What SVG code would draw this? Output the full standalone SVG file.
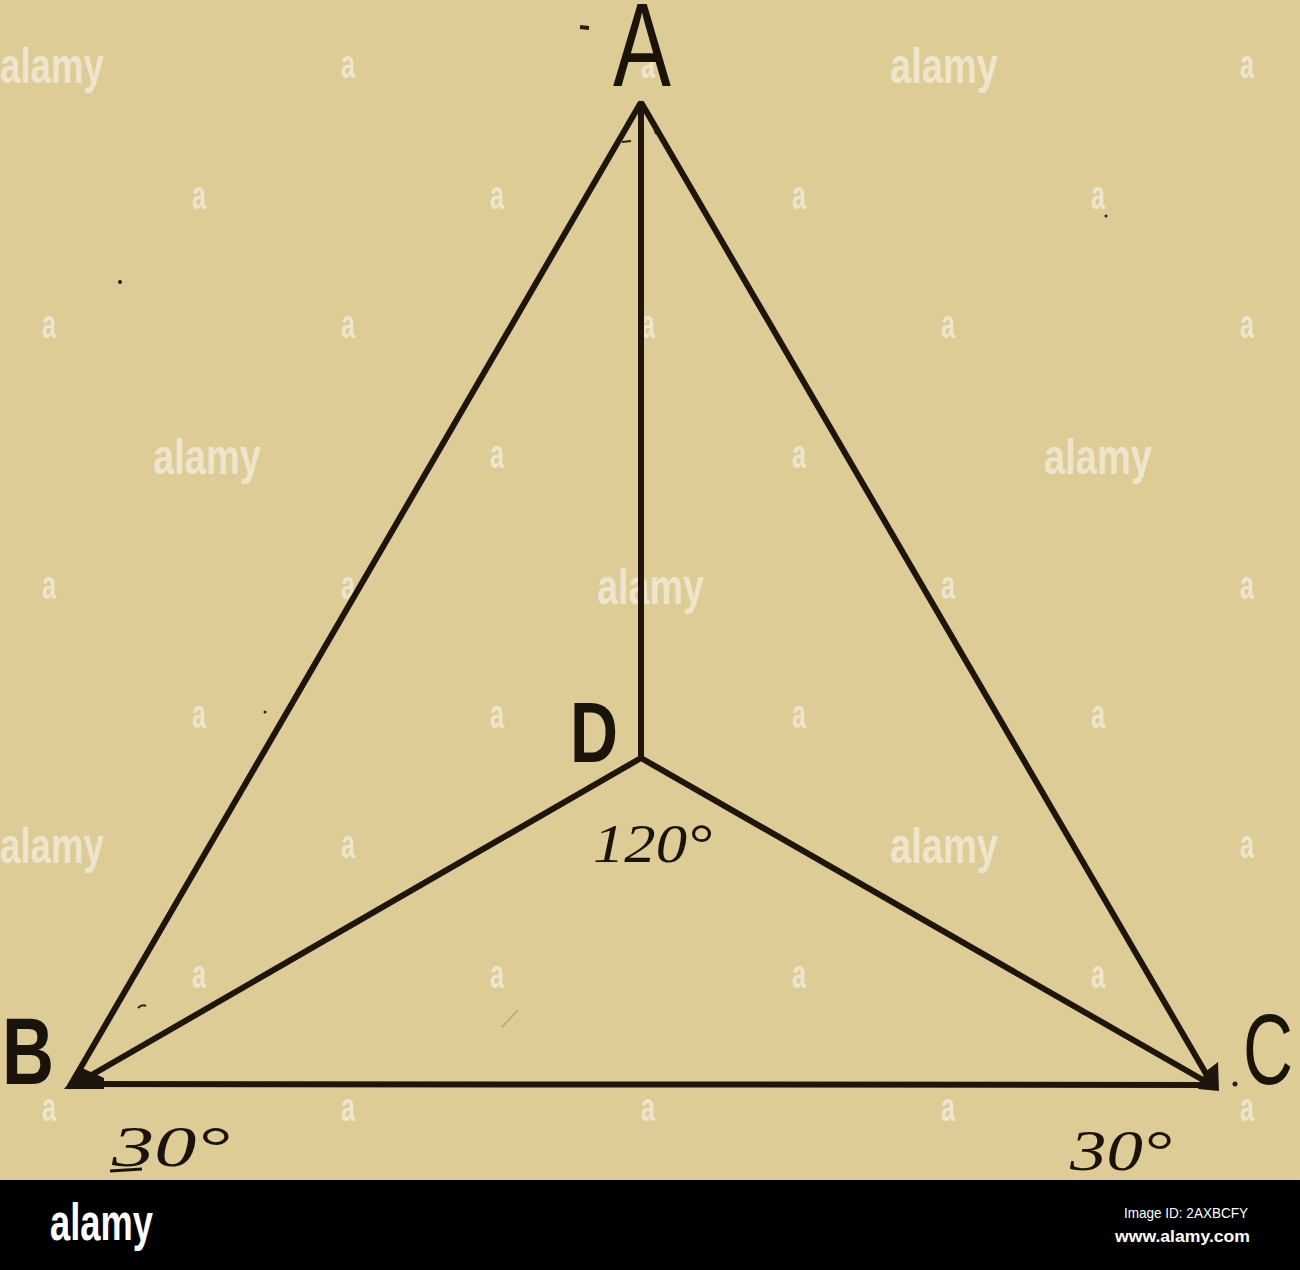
<svg xmlns="http://www.w3.org/2000/svg" width="1300" height="1270" viewBox="0 0 1300 1270">
<defs>
<style>
.wm { fill:#ede6cc; font-family:"Liberation Sans",Arial,sans-serif; font-weight:bold; }
.wa { font-size:40px; text-anchor:middle; }
.wl { font-size:50px; }
.edge { stroke:#1e160c; stroke-width:6; stroke-linecap:round; fill:none; }
.lbl { fill:#1a130a; font-family:"Liberation Sans",Arial,sans-serif; }
.ang { fill:#1a130a; font-family:"Liberation Serif","Times New Roman",serif; font-style:italic; }
.foot { fill:#ffffff; font-family:"Liberation Sans",Arial,sans-serif; }
</style>
</defs>
<rect x="0" y="0" width="1300" height="1180" fill="#ddcc96"/>

<g id="watermarks">
  <text class="wm wl" x="0" y="83" textLength="104" lengthAdjust="spacingAndGlyphs">alamy</text>
  <text class="wm wa" x="348" y="78" textLength="14" lengthAdjust="spacingAndGlyphs">a</text>
  <text class="wm wa" x="648" y="78" textLength="14" lengthAdjust="spacingAndGlyphs">a</text>
  <text class="wm wl" x="890" y="83" textLength="108" lengthAdjust="spacingAndGlyphs">alamy</text>
  <text class="wm wa" x="1247" y="78" textLength="14" lengthAdjust="spacingAndGlyphs">a</text>

  <text class="wm wa" x="199" y="209" textLength="14" lengthAdjust="spacingAndGlyphs">a</text>
  <text class="wm wa" x="497" y="209" textLength="14" lengthAdjust="spacingAndGlyphs">a</text>
  <text class="wm wa" x="799" y="209" textLength="14" lengthAdjust="spacingAndGlyphs">a</text>
  <text class="wm wa" x="1098" y="209" textLength="14" lengthAdjust="spacingAndGlyphs">a</text>

  <text class="wm wa" x="49" y="338" textLength="14" lengthAdjust="spacingAndGlyphs">a</text>
  <text class="wm wa" x="348" y="338" textLength="14" lengthAdjust="spacingAndGlyphs">a</text>
  <text class="wm wa" x="648" y="338" textLength="14" lengthAdjust="spacingAndGlyphs">a</text>
  <text class="wm wa" x="948" y="338" textLength="14" lengthAdjust="spacingAndGlyphs">a</text>
  <text class="wm wa" x="1247" y="338" textLength="14" lengthAdjust="spacingAndGlyphs">a</text>

  <text class="wm wl" x="153" y="474" textLength="108" lengthAdjust="spacingAndGlyphs">alamy</text>
  <text class="wm wa" x="497" y="468" textLength="14" lengthAdjust="spacingAndGlyphs">a</text>
  <text class="wm wa" x="799" y="468" textLength="14" lengthAdjust="spacingAndGlyphs">a</text>
  <text class="wm wl" x="1044" y="474" textLength="108" lengthAdjust="spacingAndGlyphs">alamy</text>

  <text class="wm wa" x="49" y="599" textLength="14" lengthAdjust="spacingAndGlyphs">a</text>
  <text class="wm wa" x="348" y="599" textLength="14" lengthAdjust="spacingAndGlyphs">a</text>
  <text class="wm wl" x="597" y="604" textLength="107" lengthAdjust="spacingAndGlyphs">alamy</text>
  <text class="wm wa" x="948" y="599" textLength="14" lengthAdjust="spacingAndGlyphs">a</text>
  <text class="wm wa" x="1247" y="599" textLength="14" lengthAdjust="spacingAndGlyphs">a</text>

  <text class="wm wa" x="199" y="728" textLength="14" lengthAdjust="spacingAndGlyphs">a</text>
  <text class="wm wa" x="497" y="728" textLength="14" lengthAdjust="spacingAndGlyphs">a</text>
  <text class="wm wa" x="799" y="728" textLength="14" lengthAdjust="spacingAndGlyphs">a</text>
  <text class="wm wa" x="1098" y="728" textLength="14" lengthAdjust="spacingAndGlyphs">a</text>

  <text class="wm wl" x="0" y="863" textLength="104" lengthAdjust="spacingAndGlyphs">alamy</text>
  <text class="wm wa" x="348" y="858" textLength="14" lengthAdjust="spacingAndGlyphs">a</text>
  <text class="wm wl" x="890" y="863" textLength="108" lengthAdjust="spacingAndGlyphs">alamy</text>
  <text class="wm wa" x="1247" y="858" textLength="14" lengthAdjust="spacingAndGlyphs">a</text>

  <text class="wm wa" x="199" y="988" textLength="14" lengthAdjust="spacingAndGlyphs">a</text>
  <text class="wm wa" x="497" y="988" textLength="14" lengthAdjust="spacingAndGlyphs">a</text>
  <text class="wm wa" x="799" y="988" textLength="14" lengthAdjust="spacingAndGlyphs">a</text>
  <text class="wm wa" x="1098" y="988" textLength="14" lengthAdjust="spacingAndGlyphs">a</text>

  <text class="wm wa" x="49" y="1121" textLength="14" lengthAdjust="spacingAndGlyphs">a</text>
  <text class="wm wa" x="348" y="1121" textLength="14" lengthAdjust="spacingAndGlyphs">a</text>
  <text class="wm wa" x="648" y="1121" textLength="14" lengthAdjust="spacingAndGlyphs">a</text>
  <text class="wm wa" x="948" y="1121" textLength="14" lengthAdjust="spacingAndGlyphs">a</text>
  <text class="wm wa" x="1247" y="1121" textLength="14" lengthAdjust="spacingAndGlyphs">a</text>
</g>

<g id="connectors">
  <line id="AB" class="edge" x1="640" y1="104" x2="70" y2="1086"/>
  <line id="AC" class="edge" x1="642" y1="104" x2="1212" y2="1084"/>
  <line id="AD" class="edge" x1="641" y1="104" x2="641" y2="758"/>
  <line id="DB" class="edge" x1="641" y1="758" x2="76" y2="1084"/>
  <line id="DC" class="edge" x1="641" y1="758" x2="1210" y2="1084"/>
  <line id="BC" class="edge" x1="72" y1="1084" x2="1212" y2="1085"/>
  <polygon points="64,1089 104,1089 104,1078 82,1068" fill="#1e160c"/>
  <polygon points="1198,1089 1219,1091 1218,1062 1205,1072" fill="#1e160c"/>
</g>

<g id="marks" fill="#2a2012" stroke="#2a2012">
  <line x1="580" y1="27" x2="589" y2="28" stroke-width="4"/>
  <line x1="622" y1="142" x2="631" y2="141" stroke-width="2"/>
  <line x1="654" y1="128" x2="656" y2="134" stroke-width="2"/>
  <path d="M138,1008 q4,-4 8,-2" stroke-width="2" fill="none"/>
  <circle cx="120" cy="282" r="2" stroke="none"/>
  <circle cx="265" cy="712" r="1.5" stroke="none"/>
  <circle cx="1106" cy="216" r="1.5" stroke="none"/>
  <circle cx="1235" cy="1084" r="2.5" stroke="none"/>
  <line x1="502" y1="1027" x2="518" y2="1010" stroke="#b4a47a" stroke-width="1.5"/>
</g>

<g id="node-A">
  <text class="lbl" x="613" y="86" font-size="118" textLength="58" lengthAdjust="spacingAndGlyphs">A</text>
</g>
<g id="node-D">
  <text class="lbl" x="570" y="762" font-size="86" font-weight="bold" textLength="48" lengthAdjust="spacingAndGlyphs">D</text>
</g>
<g id="node-B">
  <text class="lbl" x="2" y="1084" font-size="95" font-weight="bold" textLength="52" lengthAdjust="spacingAndGlyphs">B</text>
</g>
<g id="node-C">
  <text class="lbl" x="1243" y="1084" font-size="100" textLength="50" lengthAdjust="spacingAndGlyphs">C</text>
</g>

<g id="angle-D">
  <text class="ang" x="593" y="862" font-size="54" textLength="119" lengthAdjust="spacingAndGlyphs">120°</text>
</g>
<g id="angle-B">
  <text class="ang" x="112" y="1166" font-size="56" textLength="118" lengthAdjust="spacingAndGlyphs">30°</text>
  <line x1="110" y1="1171" x2="142" y2="1169" stroke="#1a130a" stroke-width="3"/>
</g>
<g id="angle-C">
  <text class="ang" x="1070" y="1170" font-size="56" textLength="102" lengthAdjust="spacingAndGlyphs">30°</text>
</g>

<g id="footer">
  <rect x="0" y="1180" width="1300" height="90" fill="#000000"/>
  <text class="foot" x="50" y="1240" font-size="52" font-weight="bold" textLength="103" lengthAdjust="spacingAndGlyphs">alamy</text>
  <text class="foot" x="1124" y="1218" font-size="15" textLength="124" lengthAdjust="spacingAndGlyphs">Image ID: 2AXBCFY</text>
  <text class="foot" x="1115" y="1242" font-size="17" font-weight="bold" textLength="135" lengthAdjust="spacingAndGlyphs">www.alamy.com</text>
</g>
</svg>
